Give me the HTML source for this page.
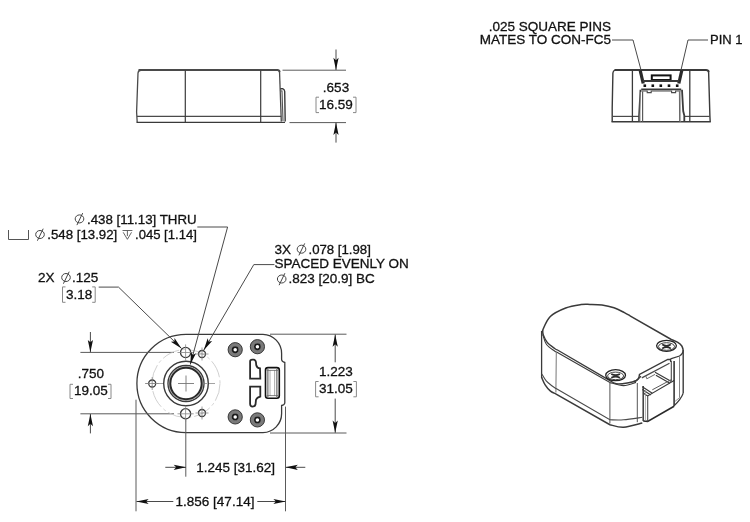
<!DOCTYPE html>
<html><head><meta charset="utf-8"><style>
html,body{margin:0;padding:0;background:#fff;}
svg{display:block;}
text{font-family:"Liberation Sans",sans-serif;stroke:#111;stroke-width:0.3px;}
svg{will-change:transform;}
</style></head><body>
<svg width="750" height="522" viewBox="0 0 750 522">
<rect width="750" height="522" fill="#fff"/>
<path d="M137.2,122.2 L136.6,112 L138,73 Q138.3,70.5 140.5,70.5" stroke="#4a4a4a" stroke-width="1.3" fill="none" />
<path d="M138.5,70 L277.5,70 Q279.3,70 279.6,72" stroke="#4a4a4a" stroke-width="2" fill="none" />
<path d="M279.5,71 L281.3,121.6" stroke="#4a4a4a" stroke-width="1.3" fill="none" />
<line x1="136.5" y1="122.3" x2="285" y2="122.3" stroke="#3a3a3a" stroke-width="1.3" />
<line x1="137" y1="116.4" x2="281.2" y2="116.4" stroke="#4a4a4a" stroke-width="1.1" />
<line x1="185.3" y1="70.5" x2="185.3" y2="122" stroke="#3a3a3a" stroke-width="1.2" />
<line x1="260.7" y1="70.5" x2="260.7" y2="122" stroke="#3a3a3a" stroke-width="1.2" />
<path d="M280.3,88.8 L283,88.8 Q284.6,89.4 284.7,91.5 L285.2,121.6" stroke="#3a3a3a" stroke-width="1.4" fill="none" />
<path d="M280.6,90.8 L282,91 L283,121" stroke="#555" stroke-width="1.1" fill="none" />
<line x1="282.5" y1="70.2" x2="346" y2="70.2" stroke="#5a5a5a" stroke-width="1" />
<line x1="289.5" y1="122.6" x2="346" y2="122.6" stroke="#5a5a5a" stroke-width="1" />
<line x1="336" y1="49.5" x2="336" y2="70" stroke="#4a4a4a" stroke-width="1" />
<path d="M336.00,70.00 L333.40,57.70 L336.00,60.16 L338.60,57.70 Z" fill="#111" stroke="none"/>
<line x1="336" y1="122.6" x2="336" y2="142.6" stroke="#4a4a4a" stroke-width="1" />
<path d="M336.00,122.60 L338.60,134.90 L336.00,132.44 L333.40,134.90 Z" fill="#111" stroke="none"/>
<text x="336" y="91.7" text-anchor="middle" font-size="13.5" fill="#111">.653</text>
<text x="336" y="109.1" text-anchor="middle" font-size="13.5" fill="#111">16.59</text>
<path d="M319,97.2 H316 V112.6 H319" stroke="#888" stroke-width="1" fill="none" />
<path d="M353,97.2 H356 V112.6 H353" stroke="#888" stroke-width="1" fill="none" />
<path d="M612.2,121.8 L612.2,108 L612.9,73 Q613.1,70.8 615,70.2" stroke="#3a3a3a" stroke-width="1.4" fill="none" />
<path d="M614.5,70 L706,70 Q708.4,70 708.7,72" stroke="#3a3a3a" stroke-width="2" fill="none" />
<path d="M708.6,71.5 L709.9,116 L710.2,121.8" stroke="#3a3a3a" stroke-width="1.4" fill="none" />
<line x1="611.5" y1="121.8" x2="710.8" y2="121.8" stroke="#3a3a3a" stroke-width="1.4" />
<line x1="612.5" y1="116.4" x2="638.8" y2="116.4" stroke="#4a4a4a" stroke-width="1.2" />
<line x1="684.3" y1="116.4" x2="709.8" y2="116.4" stroke="#4a4a4a" stroke-width="1.2" />
<line x1="632.4" y1="70.4" x2="632.4" y2="121.7" stroke="#3a3a3a" stroke-width="1.3" />
<line x1="689.8" y1="70.4" x2="689.8" y2="121.7" stroke="#3a3a3a" stroke-width="1.3" />
<path d="M640.2,70.4 L643.2,83.5" stroke="#2a2a2a" stroke-width="3.2" fill="none" />
<path d="M681.8,70.4 L678.8,83.5" stroke="#2a2a2a" stroke-width="3.2" fill="none" />
<path d="M640.4,89.8 L639,115.7 L639,121.7" stroke="#3a3a3a" stroke-width="1.6" fill="none" />
<line x1="640.2" y1="92" x2="640.2" y2="121.7" stroke="#999" stroke-width="0.8" />
<line x1="642.6" y1="91.4" x2="642.6" y2="121.7" stroke="#5a5a5a" stroke-width="1.2" />
<path d="M682,89.8 L683.2,111 L684.3,115.5 L684.3,121.7" stroke="#3a3a3a" stroke-width="1.8" fill="none" />
<line x1="680.4" y1="92" x2="680.6" y2="121.7" stroke="#999" stroke-width="0.8" />
<line x1="679.4" y1="91.4" x2="679.6" y2="121.7" stroke="#666" stroke-width="1" />
<rect x="651.8" y="75.4" width="18.8" height="4.6" fill="none" stroke="#111" stroke-width="2"/>
<line x1="643" y1="81" x2="679" y2="81" stroke="#3a3a3a" stroke-width="2.2" />
<rect x="643.5" y="84.4" width="2.6" height="2.6" fill="#111"/>
<rect x="651.5" y="84.4" width="2.6" height="2.6" fill="#111"/>
<rect x="659.5" y="84.4" width="2.6" height="2.6" fill="#111"/>
<rect x="667.7" y="84.4" width="2.6" height="2.6" fill="#111"/>
<rect x="675.9000000000001" y="84.4" width="2.6" height="2.6" fill="#111"/>
<line x1="641.2" y1="89.4" x2="681.2" y2="89.4" stroke="#3a3a3a" stroke-width="1.6" />
<path d="M641.2,91 H647.2 V92.6 H651.2 V91 H671.6 V92.6 H675.6 V91 H681.2" stroke="#4a4a4a" stroke-width="1.1" fill="none" />
<path d="M612,40 H633 L641,70" stroke="#4a4a4a" stroke-width="1" fill="none" />
<path d="M708,40 H688 L681,70" stroke="#4a4a4a" stroke-width="1" fill="none" />
<text x="611" y="31" text-anchor="end" font-size="13.5" fill="#111">.025 SQUARE PINS</text>
<text x="611" y="44" text-anchor="end" font-size="13.5" fill="#111">MATES TO CON-FC5</text>
<text x="710" y="44" text-anchor="start" font-size="13" fill="#111">PIN 1</text>
<path d="M186,334.4 L263,334.4 A19,19 0 0 1 281.6,353.5 L281.6,359.5 Q281.8,361.8 284.8,362.5 L284.8,403 Q284.5,405 281.6,405.5 L281.6,413.5 A19,19 0 0 1 263,432.6 L186,432.6 A49.1,49.1 0 0 1 186,334.4 Z" stroke="#3a3a3a" stroke-width="1.3" fill="none" />
<line x1="270" y1="334.2" x2="346.5" y2="334.2" stroke="#5a5a5a" stroke-width="1" />
<line x1="270" y1="433" x2="346.5" y2="433" stroke="#5a5a5a" stroke-width="1" />
<line x1="335.2" y1="334.5" x2="335.2" y2="362.3" stroke="#4a4a4a" stroke-width="1" />
<path d="M335.20,334.50 L337.80,346.80 L335.20,344.34 L332.60,346.80 Z" fill="#111" stroke="none"/>
<line x1="335.2" y1="398.6" x2="335.2" y2="432.8" stroke="#4a4a4a" stroke-width="1" />
<path d="M335.20,432.80 L332.60,420.50 L335.20,422.96 L337.80,420.50 Z" fill="#111" stroke="none"/>
<text x="336" y="375.8" text-anchor="middle" font-size="13.5" fill="#111">1.223</text>
<text x="336" y="393.2" text-anchor="middle" font-size="13.5" fill="#111">31.05</text>
<path d="M318.6,381.5 H315.6 V396.8 H318.6" stroke="#888" stroke-width="1" fill="none" />
<path d="M353.4,381.5 H356.4 V396.8 H353.4" stroke="#888" stroke-width="1" fill="none" />
<line x1="80.4" y1="352.4" x2="174" y2="352.4" stroke="#5a5a5a" stroke-width="1" />
<line x1="80.4" y1="413.8" x2="174" y2="413.8" stroke="#5a5a5a" stroke-width="1" />
<line x1="90.4" y1="332" x2="90.4" y2="352.2" stroke="#4a4a4a" stroke-width="1" />
<path d="M90.40,352.20 L87.80,339.90 L90.40,342.36 L93.00,339.90 Z" fill="#111" stroke="none"/>
<line x1="90.4" y1="414" x2="90.4" y2="433.4" stroke="#4a4a4a" stroke-width="1" />
<path d="M90.40,414.00 L93.00,426.30 L90.40,423.84 L87.80,426.30 Z" fill="#111" stroke="none"/>
<text x="90.8" y="377.8" text-anchor="middle" font-size="13.5" fill="#111">.750</text>
<text x="90.8" y="395.2" text-anchor="middle" font-size="13.5" fill="#111">19.05</text>
<path d="M73,384.3 H70 V398.5 H73" stroke="#888" stroke-width="1" fill="none" />
<path d="M108,384.3 H111 V398.5 H108" stroke="#888" stroke-width="1" fill="none" />
<line x1="136" y1="399.7" x2="136" y2="511.3" stroke="#5a5a5a" stroke-width="1" />
<line x1="185.8" y1="419" x2="185.8" y2="476.7" stroke="#5a5a5a" stroke-width="1" />
<line x1="285.5" y1="406.6" x2="285.5" y2="511.3" stroke="#5a5a5a" stroke-width="1" />
<line x1="165.3" y1="467.3" x2="186" y2="467.3" stroke="#4a4a4a" stroke-width="1" />
<path d="M186.00,467.30 L173.70,469.90 L176.16,467.30 L173.70,464.70 Z" fill="#111" stroke="none"/>
<line x1="286" y1="467.3" x2="305.3" y2="467.3" stroke="#4a4a4a" stroke-width="1" />
<path d="M285.50,467.30 L297.80,464.70 L295.34,467.30 L297.80,469.90 Z" fill="#111" stroke="none"/>
<text x="235.6" y="472.1" text-anchor="middle" font-size="13.5" fill="#111">1.245 [31.62]</text>
<line x1="136.5" y1="501.5" x2="173.3" y2="501.5" stroke="#4a4a4a" stroke-width="1" />
<path d="M136.30,501.50 L148.60,498.90 L146.14,501.50 L148.60,504.10 Z" fill="#111" stroke="none"/>
<line x1="257.3" y1="501.5" x2="285.5" y2="501.5" stroke="#4a4a4a" stroke-width="1" />
<path d="M285.70,501.50 L273.40,504.10 L275.86,501.50 L273.40,498.90 Z" fill="#111" stroke="none"/>
<text x="215" y="506" text-anchor="middle" font-size="13.5" fill="#111">1.856 [47.14]</text>
<circle cx="186" cy="383.5" r="34" stroke="#c4c4c4" stroke-width="0.8" fill="none" stroke-dasharray="18,3,3,3"/>
<line x1="145" y1="383.5" x2="164" y2="383.5" stroke="#9a9a9a" stroke-width="0.9" stroke-dasharray="5,2,3,2,9,2"/>
<line x1="205" y1="383.5" x2="217" y2="383.5" stroke="#9a9a9a" stroke-width="0.9" stroke-dasharray="2,2,6,2,4"/>
<line x1="178" y1="383.5" x2="194" y2="383.5" stroke="#777" stroke-width="0.9" />
<line x1="186" y1="375.5" x2="186" y2="391.5" stroke="#777" stroke-width="0.9" />
<circle cx="186" cy="383.5" r="22.3" stroke="#3a3a3a" stroke-width="1.4" fill="none" />
<circle cx="186" cy="383.5" r="18" stroke="#3a3a3a" stroke-width="1.4" fill="none" />
<circle cx="186" cy="383.5" r="16.9" stroke="#999" stroke-width="0.8" fill="none" />
<circle cx="186" cy="383.5" r="15.7" stroke="#2a2a2a" stroke-width="2" fill="none" />
<circle cx="185.6" cy="352.5" r="5.1" stroke="#3a3a3a" stroke-width="1.3" fill="none" />
<line x1="177.5" y1="352.5" x2="193.7" y2="352.5" stroke="#888" stroke-width="0.8" />
<line x1="185.6" y1="344.4" x2="185.6" y2="360.6" stroke="#888" stroke-width="0.8" />
<circle cx="185.6" cy="413.8" r="5.1" stroke="#3a3a3a" stroke-width="1.3" fill="none" />
<line x1="177.5" y1="413.8" x2="193.7" y2="413.8" stroke="#888" stroke-width="0.8" />
<line x1="185.6" y1="405.7" x2="185.6" y2="421.90000000000003" stroke="#888" stroke-width="0.8" />
<circle cx="202" cy="354" r="3.5" stroke="#3a3a3a" stroke-width="1.3" fill="none" />
<line x1="195.5" y1="354" x2="208.5" y2="354" stroke="#888" stroke-width="0.8" />
<line x1="202" y1="347.5" x2="202" y2="360.5" stroke="#888" stroke-width="0.8" />
<circle cx="202" cy="413" r="3.5" stroke="#3a3a3a" stroke-width="1.3" fill="none" />
<line x1="195.5" y1="413" x2="208.5" y2="413" stroke="#888" stroke-width="0.8" />
<line x1="202" y1="406.5" x2="202" y2="419.5" stroke="#888" stroke-width="0.8" />
<circle cx="152.2" cy="383.5" r="3.5" stroke="#3a3a3a" stroke-width="1.3" fill="none" />
<line x1="145.7" y1="383.5" x2="158.7" y2="383.5" stroke="#888" stroke-width="0.8" />
<line x1="152.2" y1="377.0" x2="152.2" y2="390.0" stroke="#888" stroke-width="0.8" />
<circle cx="235.2" cy="349.7" r="5.2" fill="none" stroke="#7a7a7a" stroke-width="4"/>
<circle cx="235.2" cy="349.7" r="7.1" stroke="#3a3a3a" stroke-width="1" fill="none" />
<circle cx="235.2" cy="349.7" r="2.6" fill="#fff" stroke="#1a1a1a" stroke-width="1.7"/>
<circle cx="257.4" cy="346.7" r="5.2" fill="none" stroke="#7a7a7a" stroke-width="4"/>
<circle cx="257.4" cy="346.7" r="7.1" stroke="#3a3a3a" stroke-width="1" fill="none" />
<circle cx="257.4" cy="346.7" r="2.6" fill="#fff" stroke="#1a1a1a" stroke-width="1.7"/>
<circle cx="235.2" cy="416.9" r="5.2" fill="none" stroke="#7a7a7a" stroke-width="4"/>
<circle cx="235.2" cy="416.9" r="7.1" stroke="#3a3a3a" stroke-width="1" fill="none" />
<circle cx="235.2" cy="416.9" r="2.6" fill="#fff" stroke="#1a1a1a" stroke-width="1.7"/>
<circle cx="257.4" cy="419.9" r="5.2" fill="none" stroke="#7a7a7a" stroke-width="4"/>
<circle cx="257.4" cy="419.9" r="7.1" stroke="#3a3a3a" stroke-width="1" fill="none" />
<circle cx="257.4" cy="419.9" r="2.6" fill="#fff" stroke="#1a1a1a" stroke-width="1.7"/>
<path d="M250.1,378.7 L250.1,361.5 Q250.1,359.6 252.3,359.6 L253.6,359.6 Q255.7,359.8 256,362.5 L256.2,365 Q257,368.2 260,368.3 L260.3,378.7 Z" stroke="#2a2a2a" stroke-width="1.8" fill="none" />
<path d="M250.1,386.6 L260.3,386.6 L260.3,396.6 Q257,397.2 256,399.8 L255.5,404.5 Q255,406.6 252.5,406.6 Q250.2,406.6 250.1,404 Z" stroke="#2a2a2a" stroke-width="1.8" fill="none" />
<rect x="265.5" y="367.6" width="13.8" height="30.6" rx="2.5" fill="none" stroke="#111" stroke-width="1.6"/>
<line x1="267.9" y1="369" x2="267.9" y2="397" stroke="#4a4a4a" stroke-width="1" />
<line x1="276.9" y1="369" x2="276.9" y2="397" stroke="#4a4a4a" stroke-width="1" />
<line x1="270" y1="370" x2="270" y2="396" stroke="#999" stroke-width="0.8" />
<line x1="274.6" y1="370" x2="274.6" y2="396" stroke="#999" stroke-width="0.8" />
<line x1="266.5" y1="370.4" x2="278.5" y2="370.4" stroke="#666" stroke-width="0.8" />
<line x1="266.5" y1="395.6" x2="278.5" y2="395.6" stroke="#666" stroke-width="0.8" />
<path d="M98.7,287.1 H118.5 L181.5,348.4" stroke="#4a4a4a" stroke-width="1" fill="none" />
<path d="M181.50,348.40 L170.87,341.69 L174.45,341.54 L174.50,337.96 Z" fill="#111" stroke="none"/>
<path d="M274.4,264.6 H253.8 L203.7,350.3" stroke="#4a4a4a" stroke-width="1" fill="none" />
<path d="M203.70,350.30 L207.66,338.37 L208.67,341.81 L212.15,340.99 Z" fill="#111" stroke="none"/>
<path d="M197.3,227 H227.6 L190.3,364.5" stroke="#4a4a4a" stroke-width="1" fill="none" />
<path d="M190.30,364.50 L191.01,351.95 L192.88,355.00 L196.03,353.31 Z" fill="#111" stroke="none"/>
<text x="274.5" y="254" text-anchor="start" font-size="13.5" fill="#111">3X</text>
<ellipse cx="301.5" cy="249.2" rx="4.3" ry="4" stroke="#444" stroke-width="1" fill="none"/>
<line x1="304.7" y1="243.39999999999998" x2="298.9" y2="255.39999999999998" stroke="#444" stroke-width="1" />
<text x="308.5" y="254" text-anchor="start" font-size="13.2" fill="#111">.078 [1.98]</text>
<text x="274.5" y="268" text-anchor="start" font-size="13.5" fill="#111">SPACED EVENLY ON</text>
<ellipse cx="281.7" cy="279" rx="4.3" ry="4" stroke="#444" stroke-width="1" fill="none"/>
<line x1="284.9" y1="273.2" x2="279.09999999999997" y2="285.2" stroke="#444" stroke-width="1" />
<text x="288.5" y="283" text-anchor="start" font-size="13.5" fill="#111">.823 [20.9] BC</text>
<text x="38" y="282" text-anchor="start" font-size="13.5" fill="#111">2X</text>
<ellipse cx="66" cy="277.5" rx="4.3" ry="4" stroke="#444" stroke-width="1" fill="none"/>
<line x1="69.2" y1="271.7" x2="63.4" y2="283.7" stroke="#444" stroke-width="1" />
<text x="72" y="282" text-anchor="start" font-size="13.5" fill="#111">.125</text>
<text x="79.2" y="299" text-anchor="middle" font-size="13.5" fill="#111">3.18</text>
<path d="M65.5,286.9 H62.5 V302.3 H65.5" stroke="#888" stroke-width="1" fill="none" />
<path d="M92.2,286.9 H95.2 V302.3 H92.2" stroke="#888" stroke-width="1" fill="none" />
<ellipse cx="79.5" cy="218.9" rx="4.3" ry="4" stroke="#444" stroke-width="1" fill="none"/>
<line x1="82.7" y1="213.1" x2="76.9" y2="225.1" stroke="#444" stroke-width="1" />
<text x="87" y="223.6" text-anchor="start" font-size="13.3" fill="#111">.438 [11.13] THRU</text>
<path d="M8.5,230 V239.5 H28.5 V230" stroke="#555" stroke-width="1" fill="none" />
<ellipse cx="40" cy="234.5" rx="4.3" ry="4" stroke="#444" stroke-width="1" fill="none"/>
<line x1="43.2" y1="228.7" x2="37.4" y2="240.7" stroke="#444" stroke-width="1" />
<text x="47.3" y="238.6" text-anchor="start" font-size="13.25" fill="#111">.548 [13.92]</text>
<path d="M122.5,230.5 H132.4 M127.4,230.5 V236 M123.2,232.3 L127.4,239.3 L131.5,232.3" stroke="#555" stroke-width="0.9" fill="none" />
<text x="135" y="238.6" text-anchor="start" font-size="13.1" fill="#111">.045 [1.14]</text>
<path d="M541.90,336.00 C542.03,335.05 541.30,333.55 542.70,330.30 C544.10,327.05 546.47,320.22 550.30,316.50 C554.13,312.78 560.58,309.98 565.70,308.00 C570.82,306.02 576.95,305.20 581.00,304.60 C585.05,304.00 586.50,304.33 590.00,304.40 C593.50,304.47 598.00,304.43 602.00,305.00 C606.00,305.57 610.27,306.53 614.00,307.80 C617.73,309.07 621.73,311.27 624.40,312.60 C627.07,313.93 629.07,315.27 630.00,315.80 L671.3,339.5  C672.38,339.98 676.05,341.32 677.80,342.40 C679.55,343.48 680.90,344.73 681.80,346.00 C682.70,347.27 682.97,349.33 683.20,350.00" stroke="#3a3a3a" stroke-width="1.5" fill="none" />
<path d="M542.70,330.30 C542.82,331.07 542.63,332.87 543.40,334.90 C544.17,336.93 545.37,340.20 547.30,342.50 C549.23,344.80 553.30,347.45 555.00,348.70 C556.70,349.95 557.08,349.78 557.50,350.00 L609.9,380.6  C610.93,381.12 613.20,383.30 616.10,383.70 C619.00,384.10 623.98,383.52 627.30,383.00 C630.62,382.48 633.72,381.73 636.00,380.60 C638.28,379.47 640.17,376.93 641.00,376.20" stroke="#3a3a3a" stroke-width="1.3" fill="none" />
<path d="M543.20,336.00 C543.75,337.42 544.62,342.00 546.50,344.50 C548.38,347.00 552.75,349.70 554.50,351.00 C556.25,352.30 556.58,352.08 557.00,352.30 L609.9,382.6  C612.18,383.10 619.25,385.63 623.60,385.60 C627.95,385.57 633.93,382.93 636.00,382.40" stroke="#3a3a3a" stroke-width="1.1" fill="none" />
<line x1="541.6" y1="331" x2="541.6" y2="378" stroke="#3a3a3a" stroke-width="1.3" />
<line x1="556.3" y1="351.5" x2="555.9" y2="392.5" stroke="#777" stroke-width="1" />
<line x1="609.9" y1="382" x2="609.9" y2="423.5" stroke="#555" stroke-width="1" />
<line x1="637.3" y1="383" x2="637.3" y2="422.2" stroke="#555" stroke-width="1" />
<path d="M541.80,374.00 C542.53,375.15 544.47,378.90 546.20,380.90 C547.93,382.90 550.55,384.72 552.20,386.00 C553.85,387.28 555.45,388.17 556.10,388.60 L609.9,419.8  C612.18,419.80 618.20,420.22 623.60,419.80 C629.00,419.38 639.18,417.72 642.30,417.30" stroke="#4a4a4a" stroke-width="1.1" fill="none" />
<path d="M541.60,377.40 C542.22,378.70 543.82,382.90 545.30,385.20 C546.78,387.50 548.77,389.77 550.50,391.20 C552.23,392.63 554.83,393.37 555.70,393.80 L609.9,424.7  C612.18,425.12 618.20,427.48 623.60,427.20 C629.00,426.92 639.18,423.70 642.30,423.00" stroke="#3a3a3a" stroke-width="1.5" fill="none" />
<ellipse cx="615.6" cy="375.2" rx="9.9" ry="5.5" fill="#fff" stroke="#222" stroke-width="1.3"/>
<ellipse cx="615.6" cy="375.9" rx="8" ry="3.8" fill="none" stroke="#444" stroke-width="1"/>
<path d="M611.3000000000001,374.0 Q615.6,376.4 619.9,374.0 M611.3000000000001,377.8 Q615.6,375.4 619.9,377.8" stroke="#2a2a2a" stroke-width="1.7" fill="none" />
<ellipse cx="615.6" cy="375.9" rx="1.6" ry="1.1" fill="#333"/>
<ellipse cx="666.5" cy="345.8" rx="9.9" ry="5.5" fill="#fff" stroke="#222" stroke-width="1.3"/>
<ellipse cx="666.5" cy="346.5" rx="8" ry="3.8" fill="none" stroke="#444" stroke-width="1"/>
<path d="M662.2,344.6 Q666.5,347.0 670.8,344.6 M662.2,348.40000000000003 Q666.5,346.0 670.8,348.40000000000003" stroke="#2a2a2a" stroke-width="1.7" fill="none" />
<ellipse cx="666.5" cy="346.5" rx="1.6" ry="1.1" fill="#333"/>
<path d="M633.5,381.8 C637,381 639.3,378.5 639.5,374.4 L667.7,359.5 L670.5,359.5 L670.8,362" stroke="#3a3a3a" stroke-width="1.4" fill="none" />
<path d="M641.8,377.9 L669.5,363.2" stroke="#4a4a4a" stroke-width="1.3" fill="none" />
<path d="M645.9,376.2 L646.8,378.8 L655,374.4" stroke="#5a5a5a" stroke-width="0.9" fill="none" />
<path d="M655,372.3 L671.4,381.4 M655.9,375.2 L669.9,383.2" stroke="#3a3a3a" stroke-width="1.2" fill="none" />
<path d="M642.3,386.8 L652.3,393.2 M642.3,389.6 L650.8,395" stroke="#3a3a3a" stroke-width="1.2" fill="none" />
<path d="M652.3,389.8 L671.4,379.6" stroke="#5a5a5a" stroke-width="1" fill="none" />
<path d="M643.2,392.5 L645.5,394.8 L647.7,395.9 L674.1,380.5" stroke="#3a3a3a" stroke-width="1.2" fill="none" />
<line x1="674.1" y1="361" x2="674.1" y2="406.2" stroke="#2a2a2a" stroke-width="1.5" />
<path d="M643.2,421 L647.7,421.4 L674.1,406.2" stroke="#2a2a2a" stroke-width="1.6" fill="none" />
<line x1="643.2" y1="386" x2="643.2" y2="421" stroke="#3a3a3a" stroke-width="1.5" />
<line x1="647.7" y1="395.5" x2="647.7" y2="421.4" stroke="#4a4a4a" stroke-width="1.1" />
<line x1="645.4" y1="390" x2="645.4" y2="421" stroke="#999" stroke-width="0.8" />
<path d="M670.5,358.8 L679.5,356 C682,354.5 683.2,352.5 683.2,350" stroke="#3a3a3a" stroke-width="1.3" fill="none" />
<line x1="671.3" y1="361" x2="671.3" y2="381.2" stroke="#4a4a4a" stroke-width="1.1" />
<line x1="679.5" y1="356.5" x2="679.5" y2="397.7" stroke="#777" stroke-width="0.9" />
<line x1="683.2" y1="350" x2="683.2" y2="393.2" stroke="#3a3a3a" stroke-width="1.4" />
<path d="M674.1,405.8 C678,402 681.5,398 683.2,393.2" stroke="#3a3a3a" stroke-width="1.2" fill="none" />
<path d="M675,401.4 L679.5,397.7" stroke="#777" stroke-width="0.8" fill="none" />
</svg></body></html>
